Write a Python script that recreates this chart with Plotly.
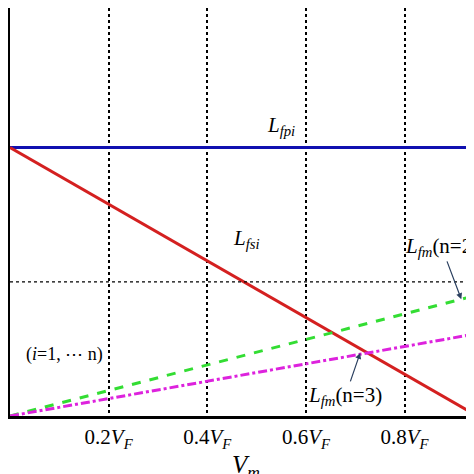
import plotly.graph_objects as go

vm = [0.0, 0.957]
l_fpi = [1.0, 1.0]
l_fsi = [1.0, -0.01]
l_fm2 = [0.0, 0.455]
l_fm3 = [0.0, 0.31]
x_ticks = [0, 0.2, 0.4, 0.6, 0.8]
x_labels = ['0', '0.2<i>V<sub>F</sub></i>', '0.4<i>V<sub>F</sub></i>',
            '0.6<i>V<sub>F</sub></i>', '0.8<i>V<sub>F</sub></i>']

fig = go.Figure()
fig.add_trace(go.Scatter(x=vm, y=l_fpi, mode='lines', line=dict(color='#1010b0', width=3)))
fig.add_trace(go.Scatter(x=vm, y=l_fsi, mode='lines', line=dict(color='#d42020', width=3)))
fig.add_trace(go.Scatter(x=vm, y=l_fm2, mode='lines', line=dict(color='#33dd33', width=3, dash='dash')))
fig.add_trace(go.Scatter(x=vm, y=l_fm3, mode='lines', line=dict(color='#dd22dd', width=3, dash='dashdot')))

# horizontal reference line at 0.5
fig.add_shape(type='line', x0=0, x1=0.957, y0=0.5, y1=0.5,
              line=dict(color='black', width=1.2, dash='dot'))

f = dict(family='Liberation Serif', size=21, color='black')
fig.add_annotation(x=0.55, y=1.08, text='<i>L<sub>fpi</sub></i>', showarrow=False, font=f)
fig.add_annotation(x=0.48, y=0.66, text='<i>L<sub>fsi</sub></i>', showarrow=False, font=f)
fig.add_annotation(x=0.915, y=0.435, ax=0.875, ay=0.63, axref='x', ayref='y',
                   text='<i>L<sub>fm</sub></i>(n=2)', showarrow=True, arrowhead=2,
                   arrowwidth=1.2, font=f)
fig.add_annotation(x=0.71, y=0.235, ax=0.68, ay=0.075, axref='x', ayref='y',
                   text='<i>L<sub>fm</sub></i>(n=3)', showarrow=True, arrowhead=2,
                   arrowwidth=1.2, font=f)
fig.add_annotation(x=0.11, y=0.23, text='(<i>i</i>=1, ⋯ n)', showarrow=False,
                   font=dict(family='Liberation Serif', size=18, color='black'))

fig.update_layout(
    width=474, height=474, plot_bgcolor='white', paper_bgcolor='white',
    margin=dict(l=2, r=0, t=0, b=66, autoexpand=False), showlegend=False,
    font=dict(family='Liberation Serif', size=21, color='black'),
    xaxis=dict(range=[0, 0.957], tickvals=x_ticks, ticktext=x_labels,
               showgrid=True, gridcolor='black', griddash='dot', gridwidth=1.5,
               zeroline=False, showline=True, linecolor='black', linewidth=3,
               title=dict(text='<i>V<sub>m</sub></i>', standoff=2), ticks=''),
    yaxis=dict(range=[0, 1.52], showticklabels=False, showgrid=False, zeroline=False,
               showline=True, linecolor='black', linewidth=3, ticks=''),
)
fig.write_html('out.html')
